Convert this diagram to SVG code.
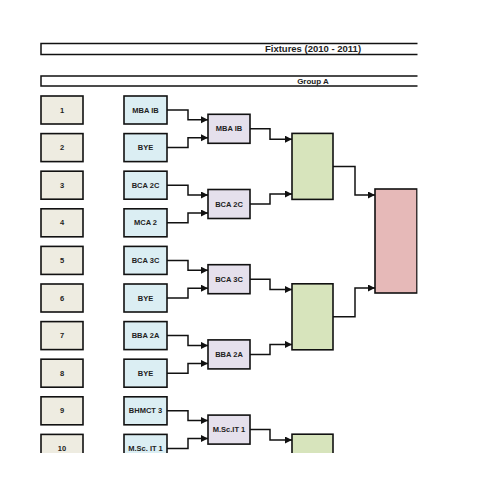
<svg xmlns="http://www.w3.org/2000/svg" width="495" height="495" viewBox="0 0 495 495">
<defs>
<clipPath id="clip"><rect x="0" y="0" width="417.5" height="453"/></clipPath>
<marker id="arr" markerUnits="userSpaceOnUse" markerWidth="8" markerHeight="8" refX="7" refY="3.5" orient="auto">
<path d="M0,0 L7,3.5 L0,7 Z" fill="#111"/>
</marker>
</defs>
<style>
.bar{fill:#fff;stroke:#111;stroke-width:1.5}
.num{fill:#eeece1;stroke:#111;stroke-width:1.6}
.team{fill:#dbeef3;stroke:#111;stroke-width:1.6}
.r2{fill:#e5e0ec;stroke:#111;stroke-width:1.6}
.r3{fill:#d7e4bc;stroke:#111;stroke-width:1.6}
.r4{fill:#e6b9b8;stroke:#111;stroke-width:1.6}
.t{font-family:"Liberation Sans",Arial,sans-serif;font-weight:bold;font-size:7.5px;fill:#222;text-anchor:middle}
.ttl{font-size:9.5px}
.grp{font-size:8px}
.c{fill:none;stroke:#111;stroke-width:1.5;marker-end:url(#arr)}
</style>
<rect width="495" height="495" fill="#fff"/>
<g clip-path="url(#clip)">
<g id="title"><rect class="bar" x="41" y="43.5" width="544" height="11"/><text class="t ttl" x="313" y="52.3">Fixtures (2010 - 2011)</text></g>
<g id="groupA"><rect class="bar" x="41" y="76" width="544" height="10"/><text class="t grp" x="313" y="83.6">Group A</text></g>

<g id="n1"><rect class="num" x="41" y="96" width="42" height="28"/><text class="t" x="62" y="112.6">1</text></g>
<g id="n2"><rect class="num" x="41" y="133.6" width="42" height="28"/><text class="t" x="62" y="150.2">2</text></g>
<g id="n3"><rect class="num" x="41" y="171.2" width="42" height="28"/><text class="t" x="62" y="187.8">3</text></g>
<g id="n4"><rect class="num" x="41" y="208.8" width="42" height="28"/><text class="t" x="62" y="225.4">4</text></g>
<g id="n5"><rect class="num" x="41" y="246.4" width="42" height="28"/><text class="t" x="62" y="263">5</text></g>
<g id="n6"><rect class="num" x="41" y="284" width="42" height="28"/><text class="t" x="62" y="300.6">6</text></g>
<g id="n7"><rect class="num" x="41" y="321.6" width="42" height="28"/><text class="t" x="62" y="338.2">7</text></g>
<g id="n8"><rect class="num" x="41" y="359.2" width="42" height="28"/><text class="t" x="62" y="375.8">8</text></g>
<g id="n9"><rect class="num" x="41" y="396.8" width="42" height="28"/><text class="t" x="62" y="413.4">9</text></g>
<g id="n10"><rect class="num" x="41" y="434.4" width="42" height="28"/><text class="t" x="62" y="451">10</text></g>

<g id="t1"><rect class="team" x="124" y="96" width="43" height="28"/><text class="t" x="145.5" y="112.6">MBA IB</text></g>
<g id="t2"><rect class="team" x="124" y="133.6" width="43" height="28"/><text class="t" x="145.5" y="150.2">BYE</text></g>
<g id="t3"><rect class="team" x="124" y="171.2" width="43" height="28"/><text class="t" x="145.5" y="187.8">BCA 2C</text></g>
<g id="t4"><rect class="team" x="124" y="208.8" width="43" height="28"/><text class="t" x="145.5" y="225.4">MCA 2</text></g>
<g id="t5"><rect class="team" x="124" y="246.4" width="43" height="28"/><text class="t" x="145.5" y="263">BCA 3C</text></g>
<g id="t6"><rect class="team" x="124" y="284" width="43" height="28"/><text class="t" x="145.5" y="300.6">BYE</text></g>
<g id="t7"><rect class="team" x="124" y="321.6" width="43" height="28"/><text class="t" x="145.5" y="338.2">BBA 2A</text></g>
<g id="t8"><rect class="team" x="124" y="359.2" width="43" height="28"/><text class="t" x="145.5" y="375.8">BYE</text></g>
<g id="t9"><rect class="team" x="124" y="396.8" width="43" height="28"/><text class="t" x="145.5" y="413.4">BHMCT 3</text></g>
<g id="t10"><rect class="team" x="124" y="434.4" width="43" height="28"/><text class="t" x="145.5" y="451">M.Sc. IT 1</text></g>

<g id="r2a"><rect class="r2" x="208" y="114.3" width="42" height="29"/><text class="t" x="229" y="131.4">MBA IB</text></g>
<g id="r2b"><rect class="r2" x="208" y="189.5" width="42" height="29"/><text class="t" x="229" y="206.6">BCA 2C</text></g>
<g id="r2c"><rect class="r2" x="208" y="264.7" width="42" height="29"/><text class="t" x="229" y="281.8">BCA 3C</text></g>
<g id="r2d"><rect class="r2" x="208" y="339.9" width="42" height="29"/><text class="t" x="229" y="357">BBA 2A</text></g>
<g id="r2e"><rect class="r2" x="208" y="415.1" width="42" height="29"/><text class="t" x="229" y="432.2">M.Sc.IT 1</text></g>

<g id="r3a"><rect class="r3" x="292" y="133.4" width="41" height="66"/></g>
<g id="r3b"><rect class="r3" x="292" y="283.8" width="41" height="66"/></g>
<g id="r3c"><rect class="r3" x="292" y="434.2" width="41" height="66"/></g>

<g id="r4a"><rect class="r4" x="375" y="189" width="42" height="104"/></g>

<g id="connectors">
<path class="c" d="M167,110 H188 V119.8 H208"/>
<path class="c" d="M167,147.6 H188 V137.8 H208"/>
<path class="c" d="M167,185.2 H188 V195 H208"/>
<path class="c" d="M167,222.8 H188 V213 H208"/>
<path class="c" d="M167,260.4 H188 V270.2 H208"/>
<path class="c" d="M167,298 H188 V288.2 H208"/>
<path class="c" d="M167,335.6 H188 V345.4 H208"/>
<path class="c" d="M167,373.2 H188 V363.4 H208"/>
<path class="c" d="M167,410.8 H188 V420.6 H208"/>
<path class="c" d="M167,448.4 H188 V438.6 H208"/>
<path class="c" d="M250,128.8 H270 V139.2 H292"/>
<path class="c" d="M250,204 H270 V194 H292"/>
<path class="c" d="M250,279.2 H270 V289.6 H292"/>
<path class="c" d="M250,354.4 H270 V344.4 H292"/>
<path class="c" d="M250,429.6 H270 V440 H292"/>
<path class="c" d="M333,166.4 H355 V195 H375"/>
<path class="c" d="M333,316.8 H355 V288 H375"/>
</g>
</g>
</svg>
